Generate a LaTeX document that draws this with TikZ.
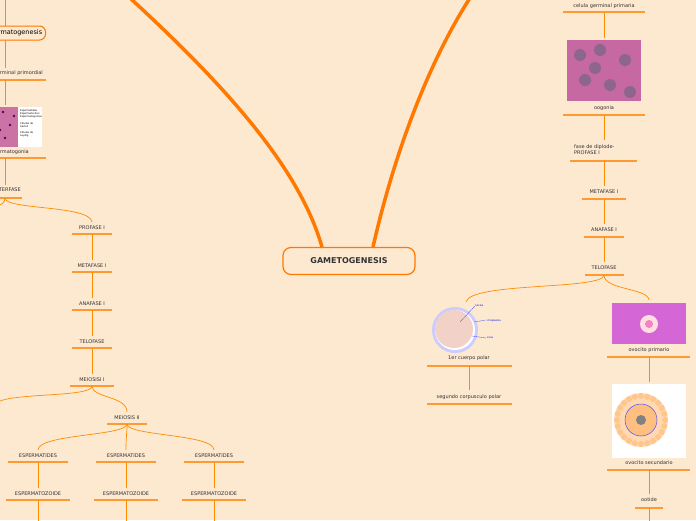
\documentclass[tikz,border=0pt]{standalone}
\usepackage{fontspec}
\setmainfont{DejaVu Sans}
\begin{document}
\begin{tikzpicture}[x=1pt,y=-1pt,
  lab/.style={font=\fontsize{5}{6}\selectfont, text=black!80, inner sep=1pt},
  ul/.style={draw=orange!80!white, line width=1.2pt},
  br/.style={draw=orange!90!yellow, line width=0.7pt},
  big/.style={draw=orange!95!red, line width=3.5pt},
]
\definecolor{bg}{HTML}{FDE8D0}
\fill[bg] (0,0) rectangle (696,520);
\useasboundingbox (0,0) rectangle (696,520);
% center
\node[draw=orange!95!red, line width=1.2pt, rounded corners=8pt, fill=bg, minimum width=132, minimum height=27, font=\bfseries\fontsize{8}{9}\selectfont, text=black!80] (c) at (349,261) {GAMETOGENESIS};
\coordinate (tl) at (130,-2); \coordinate (tr) at (470,-2);
\draw[big] (322,247) .. controls (300,170) and (230,90) .. (tl);
\draw[big] (373,247) .. controls (395,150) and (430,60) .. (tr);
% ---- left tree
\draw[br] (5,0) -- (5,26);
\node[draw=orange!95!red, line width=1pt, rounded corners=6pt, fill=bg, anchor=east, minimum height=14, font=\fontsize{6.5}{8}\selectfont] (esp) at (46,33) {Espermatogenesis};
\draw[br] (5,40) -- (5,68);
\node[lab, anchor=east] (cgp) at (44,73) {Célula germinal primordial};
\draw[ul] (-5,80) -- (46,80);
\draw[br] (5,80) -- (5,105);
\fill[white] (-20,107) rectangle (42,147);
\fill[violet!40!pink] (-20,107) rectangle (18,147);
\foreach \p in {(3,112),(10,125),(5,138),(14,116),(0,130)} \fill[violet!70!black] \p circle (1.3);
\node[font=\fontsize{2.5}{3}\selectfont, align=left, anchor=north west, inner sep=0] at (20,109) {Espermátidas\\Espermatocitos\\Espermatogonias\\[4pt]Células de\\Sertoli\\[3pt]Células de\\Leydig};
\node[lab, anchor=east] (spg) at (30,152) {Espermatogonia};
\draw[ul] (-5,158) -- (46,158);
\draw[br] (5,158) -- (5,185);
\node[lab, anchor=east] (int) at (22,190) {INTERFASE};
\draw[ul] (-5,198) -- (22,198);
\coordinate (lb) at (5,198);
\draw[br] (lb) .. controls (5,208) and (-10,205) .. (-15,210);
\draw[br] (lb) .. controls (5,210) and (90,205) .. (92,222);
\node[lab] (pro) at (92,228) {PROFASE I};
\draw[ul] (72,234) -- (112,234);
\draw[br] (92,234) -- (92,260);
\node[lab] (met) at (92,266) {METAFASE I};
\draw[ul] (72,272) -- (112,272);
\draw[br] (92,272) -- (92,298);
\node[lab] (ana) at (92,304) {ANAFASE I};
\draw[ul] (72,310) -- (112,310);
\draw[br] (92,310) -- (92,336);
\node[lab] (tel) at (92,342) {TELOFASE};
\draw[ul] (72,348) -- (112,348);
\draw[br] (92,348) -- (92,374);
\node[lab] (mi) at (92,380) {MEIOSISI I};
\draw[ul] (70,386) -- (114,386);
\draw[br] (92,386) .. controls (92,398) and (5,392) .. (-5,404);
\draw[br] (92,386) .. controls (92,398) and (127,396) .. (127,412);
\node[lab] (mii) at (127,418) {MEIOSIS II};
\draw[ul] (107,424) -- (147,424);
\foreach \x in {38,126,214}{
  \draw[br] (127,424) .. controls (127,436) and (\x,434) .. (\x,450);
  \node[lab] at (\x,456) {ESPERMATIDES};
  \draw[ul] (\x-30,462) -- (\x+30,462);
  \draw[br] (\x,462) -- (\x,488);
  \node[lab] at (\x,494) {ESPERMATOZOIDE};
  \draw[ul] (\x-32,500) -- (\x+32,500);
  \draw[br] (\x,500) -- (\x,522);
}
% ---- right tree
\node[lab] (cg) at (604,6) {celula germinal primaria};
\draw[ul] (563,12) -- (645,12);
\draw[br] (604,12) -- (604,38);
\fill[violet!45!pink] (567,40) rectangle (641,101);
\foreach \p in {(580,55),(600,50),(625,60),(585,80),(610,85),(630,92),(595,68)} \fill[violet!50!black!60] \p circle (6);
\node[lab] (oog) at (604,108) {oogonia};
\draw[ul] (563,115) -- (645,115);
\draw[br] (604,115) -- (604,140);
\node[lab, align=left, anchor=west] (fd) at (573,150) {fase de diplode-\\PROFASE I};
\draw[ul] (570,161) -- (637,161);
\draw[br] (604,161) -- (604,186);
\node[lab] (m1) at (604,192) {METAFASE I};
\draw[ul] (582,199) -- (626,199);
\draw[br] (604,199) -- (604,224);
\node[lab] (a1) at (604,230) {ANAFASE I};
\draw[ul] (584,237) -- (624,237);
\draw[br] (604,237) -- (604,262);
\node[lab] (t1) at (604,268) {TELOFASE};
\draw[ul] (585,275) -- (624,275);
\draw[br] (604,275) .. controls (604,290) and (470,282) .. (466,302);
\draw[br] (604,275) .. controls (604,290) and (648,288) .. (649,300);
% polar body image
\fill[blue!20!white] (455,330) circle (23);
\fill[white] (455,330) circle (20);
\fill[pink!60!brown!50] (454,329) circle (19);
\draw[blue!70, line width=0.3pt] (460,322) -- (475,306) (474,322) -- (486,320) (472,336) -- (486,338);
\node[font=\fontsize{2.5}{3}\selectfont, text=blue, anchor=west, inner sep=0] at (475,306) {núcleo};
\node[font=\fontsize{2.5}{3}\selectfont, text=blue, anchor=west, inner sep=0] at (487,321) {citoplasma};
\node[font=\fontsize{2.5}{3}\selectfont, text=blue, anchor=west, inner sep=0] at (487,338) {zona};
\node[lab] (cp1) at (469,358) {1er cuerpo polar};
\draw[ul] (427,366) -- (512,366);
\draw[br] (469,366) -- (469,390);
\node[lab] (scp) at (469,397) {segundo corpusculo polar};
\draw[ul] (427,404) -- (512,404);
% ovocito primario image
\fill[violet!55!magenta!60] (612,303) rectangle (686,344);
\fill[pink!50!white] (649,324) circle (9);
\fill[magenta!50] (649,324) circle (4);
\node[lab] (op) at (649,350) {ovocito primario};
\draw[ul] (607,357) -- (690,357);
\draw[br] (649,357) -- (649,382);
% ovocito secundario image
\fill[white] (612,384) rectangle (686,458);
\fill[orange!30] (641,420) circle (27);
\foreach \a in {0,15,...,345} \fill[orange!45] (641,420) ++(\a:24) circle (3);
\fill[orange!50] (641,420) circle (16);
\draw[blue!70, line width=0.5pt] (641,420) circle (16);
\fill[gray] (641,420) circle (5);
\node[lab] (os) at (649,463) {ovocito secundario};
\draw[ul] (607,470) -- (690,470);
\draw[br] (649,470) -- (649,494);
\node[lab] (oot) at (649,500) {ootide};
\draw[ul] (635,508) -- (663,508);
\draw[br] (649,508) -- (649,522);
\end{tikzpicture}
\end{document}
